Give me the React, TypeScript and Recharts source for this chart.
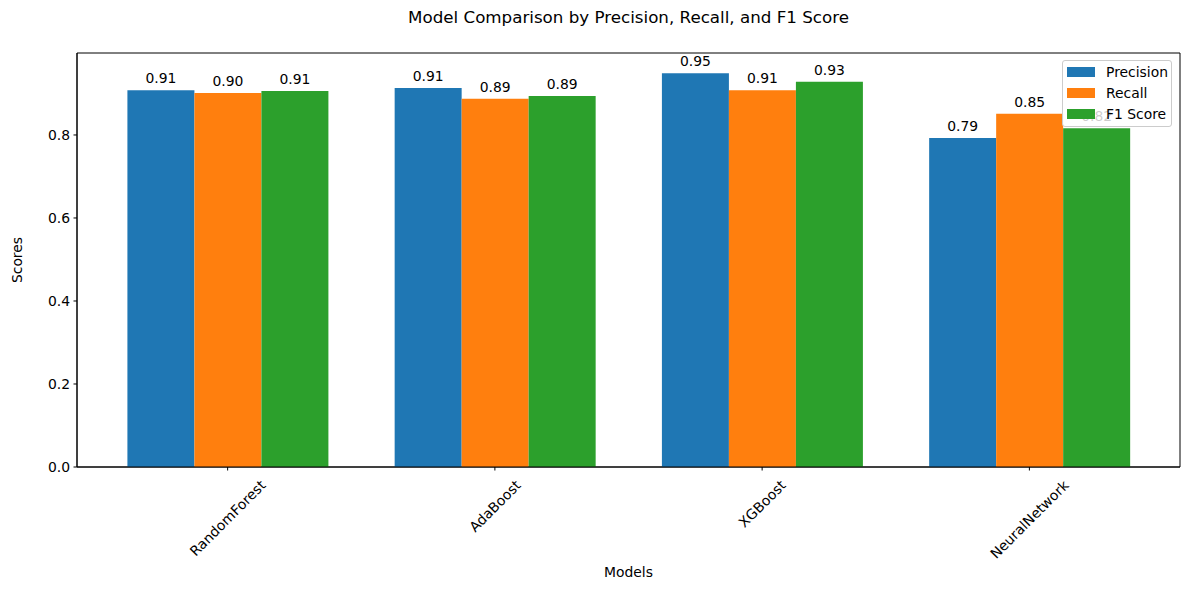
import { BarChart, Bar, XAxis, YAxis, ReferenceArea } from 'recharts';

const models = ['RandomForest', 'AdaBoost', 'XGBoost', 'NeuralNetwork'];
const precision = [0.908, 0.913, 0.949, 0.793];
const recall = [0.901, 0.887, 0.908, 0.851];
const f1Score = [0.906, 0.894, 0.928, 0.816];
const yTicks = [0, 0.2, 0.4, 0.6, 0.8];

const seriesNames = ['Precision', 'Recall', 'F1 Score'];
const seriesKeys = ['precision', 'recall', 'f1'];
const seriesColors = ['#1f77b4', '#ff7f0e', '#2ca02c'];

const data = models.map((model, i) => ({
  model,
  precision: precision[i],
  recall: recall[i],
  f1: f1Score[i],
}));

const FONT = '"DejaVu Sans", sans-serif';
const FS = 13.9;
const Y_MAX = 0.9975;

let measureCtx: CanvasRenderingContext2D | null = null;
function textWidth(s: string) {
  if (!measureCtx) measureCtx = document.createElement('canvas').getContext('2d');
  if (!measureCtx) return s.length * 8;
  measureCtx.font = `${FS}px "DejaVu Sans"`;
  return measureCtx.measureText(s).width;
}

// rotated 45deg tick label, centred on the tick like matplotlib's ha='center'
function ModelTick(props: any) {
  const { x, y, payload } = props;
  const w = textWidth(String(payload.value));
  const cy = y + 0.3536 * (w + 16) + 3;
  return (
    <text
      x={x}
      y={cy}
      textAnchor="middle"
      dominantBaseline="central"
      transform={`rotate(-45, ${x}, ${cy})`}
      fontSize={FS}
      fontFamily={FONT}
      fill="#000"
    >
      {payload.value}
    </text>
  );
}

function valueLabel(props: any) {
  const { x, y, width, value } = props;
  return (
    <text
      x={x + width / 2}
      y={y - 7}
      textAnchor="middle"
      fontSize={FS}
      fontFamily={FONT}
      fill="#000"
    >
      {Number(value).toFixed(2)}
    </text>
  );
}

export default function App() {
  return (
    <div
      style={{
        position: 'absolute',
        left: 0,
        top: 0,
        width: 1189,
        height: 590,
        fontFamily: FONT,
        background: '#fff',
      }}
    >
      <BarChart
        width={1189}
        height={590}
        data={data}
        margin={{ top: 53, right: 9, bottom: 0, left: 0 }}
        barCategoryGap="12.5%"
        barGap={0}
      >
        <XAxis
          dataKey="model"
          height={123}
          padding={{ left: 17, right: 17 }}
          stroke="#000"
          tickSize={3.5}
          tickMargin={3.5}
          tick={<ModelTick />}
          interval={0}
        />
        {/* unpadded hidden axis, only used to span the axes frame */}
        <XAxis xAxisId="frame" dataKey="model" hide />
        <YAxis
          width={77}
          type="number"
          domain={[0, Y_MAX]}
          ticks={yTicks}
          stroke="#000"
          tickSize={3.5}
          tickMargin={3.5}
          tick={{ fill: '#000', fontSize: FS, fontFamily: FONT }}
          tickFormatter={(v: number) => v.toFixed(1)}
        />
        <ReferenceArea
          xAxisId="frame"
          y1={0}
          y2={Y_MAX}
          fill="none"
          stroke="#000"
          strokeWidth={1}
        />
        {seriesKeys.map((key, i) => (
          <Bar
            key={key}
            dataKey={key}
            name={seriesNames[i]}
            fill={seriesColors[i]}
            isAnimationActive={false}
            label={valueLabel}
          />
        ))}
      </BarChart>

      <div
        style={{
          position: 'absolute',
          left: 77,
          width: 1103,
          top: 7,
          lineHeight: '20px',
          fontSize: 16.7,
          textAlign: 'center',
          color: '#000',
        }}
      >
        Model Comparison by Precision, Recall, and F1 Score
      </div>
      <div
        style={{
          position: 'absolute',
          left: 77,
          width: 1103,
          top: 564,
          lineHeight: '16px',
          fontSize: FS,
          textAlign: 'center',
          color: '#000',
        }}
      >
        Models
      </div>
      <div
        style={{
          position: 'absolute',
          left: 17,
          top: 260,
          fontSize: FS,
          lineHeight: '16px',
          whiteSpace: 'nowrap',
          transform: 'translate(-50%, -50%) rotate(-90deg)',
          color: '#000',
        }}
      >
        Scores
      </div>

      <div
        style={{
          position: 'absolute',
          left: 1062,
          top: 60,
          width: 108,
          height: 65,
          border: '1px solid #cccccc',
          borderRadius: 3,
          background: 'rgba(255,255,255,0.8)',
        }}
      >
        {seriesNames.map((name, i) => (
          <div
            key={name}
            style={{
              position: 'absolute',
              left: 4,
              top: 2 + i * 21,
              height: 17,
              display: 'flex',
              alignItems: 'center',
              whiteSpace: 'nowrap',
            }}
          >
            <span
              style={{
                display: 'inline-block',
                width: 28,
                height: 10,
                background: seriesColors[i],
                marginRight: 11,
              }}
            />
            <span style={{ fontSize: FS, color: '#000' }}>{name}</span>
          </div>
        ))}
      </div>
    </div>
  );
}
